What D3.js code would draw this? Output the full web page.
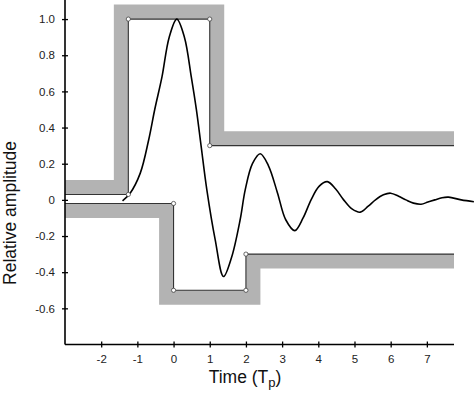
<!DOCTYPE html>
<html>
<head>
<meta charset="utf-8">
<script src="https://cdn.jsdelivr.net/npm/d3@7"></script>
<style>
  html, body { margin: 0; padding: 0; background: #fff; }
  svg { display: block; font-family: "Liberation Sans", Arial, Helvetica, sans-serif; }
</style>
</head>
<body>
<svg id="chart" width="474" height="394"></svg>
<script>
// ---- data ----
const xTicks = [-2, -1, 0, 1, 2, 3, 4, 5, 6, 7];
const xTickLabels = ["-2", "-1", "0", "1", "2", "3", "4", "5", "6", "7"];
const yTicks = [1.0, 0.8, 0.6, 0.4, 0.2, 0, -0.2, -0.4, -0.6];
const yTickLabels = ["1.0", "0.8", "0.6", "0.4", "0.2", "0", "-0.2", "-0.4", "-0.6"];

// upper mask (inner line) and outer edge of its grey band
const upperMaskT = [-3, -1.25, -1.25, 1, 1, 7.75];
const upperMaskV = [0.03, 0.03, 1.0, 1.0, 0.3, 0.3];
const upperBandT = [-3, -1.65, -1.65, 1.4, 1.4, 7.75];
const upperBandV = [0.11, 0.11, 1.08, 1.08, 0.38, 0.38];
const upperDotsIdx = [1, 2, 3, 4];

// lower mask (inner line) and outer edge of its grey band
const lowerMaskT = [-3, 0, 0, 2, 2, 7.75];
const lowerMaskV = [-0.02, -0.02, -0.5, -0.5, -0.3, -0.3];
const lowerBandT = [-3, -0.4, -0.4, 2.4, 2.4, 7.75];
const lowerBandV = [-0.10, -0.10, -0.58, -0.58, -0.38, -0.38];
const lowerDotsIdx = [1, 2, 3, 4];

// pulse response
const pulseT = [-1.41, -1.2, -0.92, -0.69, -0.52, -0.32, -0.12, 0.09, 0.3, 0.49, 0.63, 0.76, 0.92, 1.15, 1.38, 1.6, 1.84, 1.98, 2.18, 2.395, 2.62, 2.87, 3.1, 3.35, 3.58, 3.8, 4.02, 4.25, 4.48, 4.7, 4.93, 5.16, 5.38, 5.58, 5.8, 6.0, 6.22, 6.42, 6.63, 6.84, 7.03, 7.22, 7.42, 7.6, 7.95, 8.3];
const pulseV = [-0.005, 0.037, 0.148, 0.33, 0.5, 0.68, 0.9, 1.0, 0.9, 0.68, 0.5, 0.3, 0.055, -0.22, -0.424, -0.32, -0.11, 0.055, 0.2, 0.255, 0.19, 0.04, -0.11, -0.17, -0.1, 0.0, 0.075, 0.101, 0.06, 0.0, -0.05, -0.068, -0.035, 0.0, 0.028, 0.037, 0.02, 0.0, -0.018, -0.024, -0.012, 0.0, 0.012, 0.015, 0.0, -0.01];

// ---- layout ----
const svg = d3.select("#chart");
const x = d3.scaleLinear().domain([-3, 7.75]).range([65, 454]);
const y = d3.scaleLinear().domain([-0.8, 1.1]).range([344.5, 1]);

const line = d3.line().x(d => x(d[0])).y(d => y(d[1]));
const zip = (a, b) => a.map((v, i) => [v, b[i]]);

function band(mt, mv, bt, bv) {
  const inner = zip(mt, mv);
  const outer = zip(bt, bv).reverse();
  return inner.concat(outer);
}

// grey bands
svg.append("path")
  .attr("d", line(band(upperMaskT, upperMaskV, upperBandT, upperBandV)) + "Z")
  .attr("fill", "#b3b3b3");
svg.append("path")
  .attr("d", line(band(lowerMaskT, lowerMaskV, lowerBandT, lowerBandV)) + "Z")
  .attr("fill", "#b3b3b3");

// mask lines
svg.append("path").attr("d", line(zip(upperMaskT, upperMaskV)))
  .attr("fill", "none").attr("stroke", "#333").attr("stroke-width", 1.1);
svg.append("path").attr("d", line(zip(lowerMaskT, lowerMaskV)))
  .attr("fill", "none").attr("stroke", "#333").attr("stroke-width", 1.1);

// pulse curve
const curve = d3.line().x(d => x(d[0])).y(d => y(d[1])).curve(d3.curveCatmullRom.alpha(0.5));
svg.append("path").attr("d", curve(zip(pulseT, pulseV)))
  .attr("fill", "none").attr("stroke", "#000").attr("stroke-width", 1.6);

// dots
const dots = upperDotsIdx.map(i => [upperMaskT[i], upperMaskV[i]])
  .concat(lowerDotsIdx.map(i => [lowerMaskT[i], lowerMaskV[i]]));
svg.selectAll("circle.dot").data(dots).enter().append("circle")
  .attr("class", "dot")
  .attr("cx", d => x(d[0])).attr("cy", d => y(d[1])).attr("r", 2.1)
  .attr("fill", "#fff").attr("stroke", "#444").attr("stroke-width", 0.8);

// axes
const yAxis = d3.axisLeft(y).tickValues(yTicks)
  .tickFormat((d, i) => yTickLabels[i]).tickSizeInner(3).tickSizeOuter(0).tickPadding(7);
const gy = svg.append("g").attr("transform", `translate(${x(-3)},0)`).call(yAxis);
gy.select(".domain").remove();
gy.selectAll(".tick line").attr("x1", -3).attr("x2", 3).attr("stroke", "#000").attr("stroke-width", 1.3);
gy.selectAll(".tick text").attr("font-size", 11.5).attr("fill", "#222")
  .attr("font-family", "'Liberation Sans', Arial, sans-serif");
svg.append("line").attr("x1", x(-3)).attr("x2", x(-3)).attr("y1", 0).attr("y2", y(-0.8))
  .attr("stroke", "#000").attr("stroke-width", 1.6);

const xAxis = d3.axisBottom(x).tickValues(xTicks).tickFormat((d, i) => xTickLabels[i])
  .tickSizeInner(3).tickSizeOuter(0).tickPadding(7);
const gx = svg.append("g").attr("transform", `translate(0,${y(-0.8)})`).call(xAxis);
gx.select(".domain").remove();
gx.selectAll(".tick line").attr("y1", -3).attr("y2", 3).attr("stroke", "#000").attr("stroke-width", 1.3);
gx.selectAll(".tick text").attr("font-size", 11.5).attr("fill", "#222")
  .attr("font-family", "'Liberation Sans', Arial, sans-serif");
svg.append("line").attr("x1", x(-3)).attr("x2", x(7.75)).attr("y1", y(-0.8)).attr("y2", y(-0.8))
  .attr("stroke", "#000").attr("stroke-width", 1.6);

// axis titles
const xt = svg.append("text").attr("x", 245).attr("y", 383)
  .attr("text-anchor", "middle").attr("font-size", 17.5).attr("fill", "#111");
xt.append("tspan").text("Time (T");
xt.append("tspan").attr("font-size", 13).attr("dy", 4).text("p");
xt.append("tspan").attr("dy", -4).text(")");

svg.append("text").attr("transform", "translate(15.5,213) rotate(-90)")
  .attr("text-anchor", "middle").attr("font-size", 17.5).attr("fill", "#111")
  .text("Relative amplitude");
</script>
</body>
</html>
